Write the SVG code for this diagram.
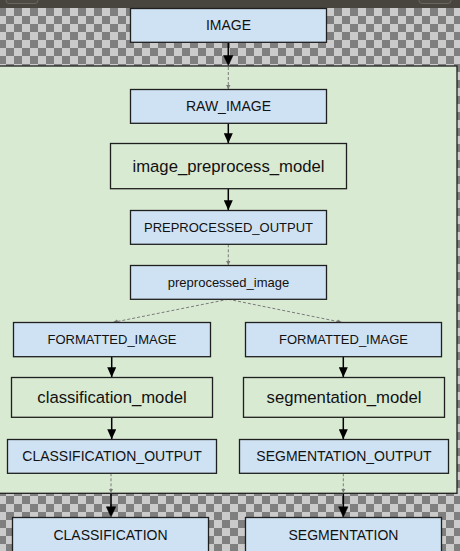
<svg xmlns="http://www.w3.org/2000/svg" width="460" height="551" viewBox="0 0 460 551">
  <defs>
    <pattern id="checker" patternUnits="userSpaceOnUse" x="-2" y="8" width="16" height="16">
      <rect width="16" height="16" fill="#cbcbcb"/>
      <rect width="8" height="8" fill="#7f7f7f"/>
      <rect x="8" y="8" width="8" height="8" fill="#7f7f7f"/>
    </pattern>
    <marker id="ahBlack" markerUnits="userSpaceOnUse" markerWidth="10" markerHeight="9" refX="10" refY="4.5" orient="auto">
      <path d="M0,0 L10,4.5 L0,9 z" fill="#000"/>
    </marker>
    <marker id="ahGray" markerUnits="userSpaceOnUse" markerWidth="5" markerHeight="5" refX="4.5" refY="2.25" orient="auto">
      <path d="M0,0 L4.5,2.25 L0,4.5 z" fill="#7a7a7a"/>
    </marker>
    <style>
      .data { fill: #cfe2f3; stroke: #1f1f1f; stroke-width: 1.3; }
      .model { fill: #d9ead3; stroke: #1f1f1f; stroke-width: 1.3; }
      .lbl { font-family: "Liberation Sans", Arial, sans-serif; fill: #111; text-anchor: middle; }
      .solid { stroke: #000; stroke-width: 1.5; fill: none; marker-end: url(#ahBlack); }
      .plain { stroke: #000; stroke-width: 1.6; fill: none; }
      .head { fill: #000; stroke: #000; stroke-width: 0.5; }
      .dash { stroke: #7a7a7a; stroke-width: 1; stroke-dasharray: 3 2; fill: none; marker-end: url(#ahGray); }
    </style>
  </defs>

  <!-- transparent background indicator -->
  <rect x="0" y="0" width="460" height="551" fill="url(#checker)"/>
  <!-- top bar -->
  <rect x="0" y="0" width="460" height="8" fill="#48453f"/>
  <rect x="6" y="-8" width="32" height="11.5" rx="3" fill="#4d4a44" stroke="#68655d" stroke-width="1"/>
  <rect x="419" y="-8" width="32" height="11.5" rx="3" fill="#4d4a44" stroke="#68655d" stroke-width="1"/>

  <!-- container -->
  <g id="container">
    <rect x="-1" y="66" width="458" height="427.3" fill="#d9ead3" stroke="#1f1f1f" stroke-width="1.3"/>
  </g>

  <g id="connectors">
    <line class="plain" x1="228.3" y1="42.3" x2="228.3" y2="57"/>
    <polygon class="head" points="223.5,55.5 233,55.5 228.3,65.5"/>
    <line class="dash" x1="228.3" y1="67" x2="228.3" y2="89.3"/>
    <line class="solid" x1="228.3" y1="123.3" x2="228.3" y2="143.3"/>
    <line class="solid" x1="228.3" y1="188.7" x2="228.3" y2="210.3"/>
    <line class="dash" x1="228.3" y1="244.3" x2="228.3" y2="265.3"/>
    <line class="dash" x1="228.3" y1="299.3" x2="113.3" y2="322.3"/>
    <line class="dash" x1="228.3" y1="299.3" x2="341.7" y2="322.3"/>
    <line class="solid" x1="111.7" y1="356.7" x2="111.7" y2="377.3"/>
    <line class="solid" x1="343.3" y1="356.7" x2="343.3" y2="377.3"/>
    <line class="solid" x1="111.7" y1="417.3" x2="111.7" y2="439.3"/>
    <line class="solid" x1="343.3" y1="417.3" x2="343.3" y2="439.3"/>
    <line class="dash" x1="111" y1="473.3" x2="111" y2="493"/>
    <line class="dash" x1="343.3" y1="473.3" x2="343.3" y2="493"/>
    <line class="plain" x1="111" y1="494" x2="111" y2="508"/>
    <polygon class="head" points="106.3,506.8 115.7,506.8 111,517"/>
    <line class="plain" x1="343.3" y1="494" x2="343.3" y2="508"/>
    <polygon class="head" points="338.6,506.8 348,506.8 343.3,517"/>
  </g>

  <g id="image">
    <rect class="data" x="130.5" y="8.5" width="196" height="33.8"/>
    <text class="lbl" x="228.5" y="30.4" font-size="14">IMAGE</text>
  </g>
  <g id="raw_image">
    <rect class="data" x="130.5" y="89.5" width="196" height="33.8"/>
    <text class="lbl" x="228.5" y="111.4" font-size="14">RAW_IMAGE</text>
  </g>
  <g id="image_preprocess_model">
    <rect class="model" x="110.5" y="143.5" width="236" height="45.2"/>
    <text class="lbl" x="228.5" y="172" font-size="16.7">image_preprocess_model</text>
  </g>
  <g id="preprocessed_output">
    <rect class="data" x="130.5" y="210.5" width="196" height="33.8"/>
    <text class="lbl" x="228.5" y="232" font-size="13">PREPROCESSED_OUTPUT</text>
  </g>
  <g id="preprocessed_image">
    <rect class="data" x="130.5" y="265.5" width="196" height="33.8"/>
    <text class="lbl" x="228.5" y="287" font-size="13">preprocessed_image</text>
  </g>
  <g id="formatted_image_left">
    <rect class="data" x="13.5" y="322.5" width="197" height="34.2"/>
    <text class="lbl" x="112" y="344.2" font-size="13">FORMATTED_IMAGE</text>
  </g>
  <g id="formatted_image_right">
    <rect class="data" x="245.5" y="322.5" width="196" height="34.2"/>
    <text class="lbl" x="343.5" y="344.2" font-size="13">FORMATTED_IMAGE</text>
  </g>
  <g id="classification_model">
    <rect class="model" x="11.5" y="377.5" width="201" height="39.8"/>
    <text class="lbl" x="112" y="403.3" font-size="16.7">classification_model</text>
  </g>
  <g id="segmentation_model">
    <rect class="model" x="243.5" y="377.5" width="201" height="39.8"/>
    <text class="lbl" x="344" y="403.3" font-size="16.7">segmentation_model</text>
  </g>
  <g id="classification_output">
    <rect class="data" x="7.5" y="439.5" width="209" height="33.8"/>
    <text class="lbl" x="112" y="461.4" font-size="14">CLASSIFICATION_OUTPUT</text>
  </g>
  <g id="segmentation_output">
    <rect class="data" x="239.5" y="439.5" width="209" height="33.8"/>
    <text class="lbl" x="344" y="461.4" font-size="14">SEGMENTATION_OUTPUT</text>
  </g>
  <g id="classification">
    <rect class="data" x="12.5" y="517.5" width="196" height="40"/>
    <text class="lbl" x="110.5" y="539.6" font-size="14">CLASSIFICATION</text>
  </g>
  <g id="segmentation">
    <rect class="data" x="245.5" y="517.5" width="196" height="40"/>
    <text class="lbl" x="343.5" y="539.6" font-size="14">SEGMENTATION</text>
  </g>
</svg>
